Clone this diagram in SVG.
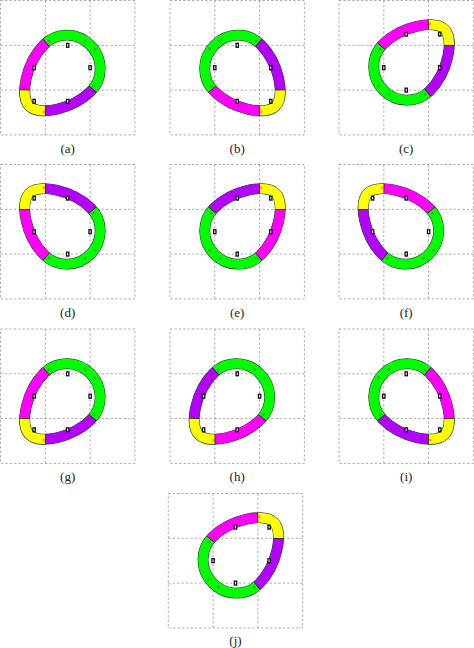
<svg xmlns="http://www.w3.org/2000/svg" xmlns:xlink="http://www.w3.org/1999/xlink" width="474" height="648" viewBox="0 0 474 648">
<style>
.grid{fill:none;stroke:#8a8a8a;stroke-width:0.7;stroke-dasharray:2.4 2}
.ol{fill:none;stroke:#262626;stroke-width:10.8}
.bd{fill:none;stroke-width:9.8}
.g{stroke:#00ff00}.m{stroke:#ff00ff}.p{stroke:#b400ff}.y{stroke:#ffff00}.k{stroke:#262626}
.lbl{font-family:"Liberation Serif","Times New Roman",serif;font-size:13px;text-anchor:middle;fill:#222}
.dot{fill:none;stroke:#b03030;stroke-width:0.5}
</style>
<defs>
<path id="egg" pathLength="238.1" d="M32,0 A32,33 0 0 1 0,33 C-26,33 -54.3,14 -54.3,0 C-54.3,-14 -26,-33 0,-33 A32,33 0 0 1 32,0 Z"/>
<g id="gridT">
<rect class="grid" x="0" y="0" width="134.4" height="134.4"/>
<path class="grid" d="M44.8,0V134.4M89.6,0V134.4M0,44.8H134.4M0,89.6H134.4"/>
</g>
<g id="mk"><rect x="-1.8" y="-2.6" width="3.6" height="5.2" fill="#111"/><rect x="-0.5" y="-1.3" width="1" height="2.6" fill="#fff"/></g>
<g id="deco">
<use href="#mk" x="0" y="-22.4"/>
<use href="#mk" x="-33.6" y="0"/>
<use href="#mk" x="22.4" y="0"/>
<use href="#mk" x="-33.6" y="33.6"/>
<use href="#mk" x="0" y="33.6"/>
<circle class="dot" cx="-25.5" cy="-17.5" r="1"/>
<circle class="dot" cx="-18.8" cy="-26.5" r="1"/>
<circle class="dot" cx="-44" cy="21" r="1"/>
<circle class="dot" cx="-23.8" cy="44" r="1"/>
<circle class="dot" cx="21.2" cy="23.5" r="1"/>
<circle class="dot" cx="26.2" cy="18.5" r="1"/>
<circle class="dot" cx="17.5" cy="-26.5" r="1"/>
<circle class="dot" cx="27.5" cy="-18.5" r="1"/>
</g>
<g id="ringA">
<g transform="rotate(-45)">
<use href="#egg" class="ol"/>
<use href="#egg" class="bd g"/>
<use href="#egg" class="bd k" stroke-dasharray="141.8 1000" stroke-dashoffset="-48.15"/>
<use href="#egg" class="bd p" stroke-dasharray="52.4 1000" stroke-dashoffset="-48.95"/>
<use href="#egg" class="bd y" stroke-dasharray="33.8 1000" stroke-dashoffset="-102.15"/>
<use href="#egg" class="bd m" stroke-dasharray="52.4 1000" stroke-dashoffset="-136.75"/>
</g>
<use href="#deco"/>
</g>
<g id="ringB">
<g transform="rotate(-45)">
<use href="#egg" class="ol"/>
<use href="#egg" class="bd g"/>
<use href="#egg" class="bd k" stroke-dasharray="141.8 1000" stroke-dashoffset="-48.15"/>
<use href="#egg" class="bd m" stroke-dasharray="52.4 1000" stroke-dashoffset="-48.95"/>
<use href="#egg" class="bd y" stroke-dasharray="33.8 1000" stroke-dashoffset="-102.15"/>
<use href="#egg" class="bd p" stroke-dasharray="52.4 1000" stroke-dashoffset="-136.75"/>
</g>
<use href="#deco"/>
</g>
</defs>

<g id="panel-a" transform="translate(0.5,0.5)">
<use href="#gridT"/>
<use href="#ringA" transform="translate(67.2,67.2)"/>
<text class="lbl" x="67.2" y="152">(a)</text>
</g>
<g id="panel-b" transform="translate(170,0.5)">
<use href="#gridT"/>
<use href="#ringB" transform="translate(67.2,67.2) scale(-1,1)"/>
<text class="lbl" x="67.2" y="152">(b)</text>
</g>
<g id="panel-c" transform="translate(339,0.5)">
<use href="#gridT"/>
<use href="#ringB" transform="translate(67.2,67.2) scale(-1,-1)"/>
<text class="lbl" x="67.2" y="152">(c)</text>
</g>
<g id="panel-d" transform="translate(0.5,164.5)">
<use href="#gridT"/>
<use href="#ringA" transform="translate(67.2,67.2) scale(1,-1)"/>
<text class="lbl" x="67.2" y="152">(d)</text>
</g>
<g id="panel-e" transform="translate(170,164.5)">
<use href="#gridT"/>
<use href="#ringA" transform="translate(67.2,67.2) scale(-1,-1)"/>
<text class="lbl" x="67.2" y="152">(e)</text>
</g>
<g id="panel-f" transform="translate(339,164.5)">
<use href="#gridT"/>
<use href="#ringB" transform="translate(67.2,67.2) scale(1,-1)"/>
<text class="lbl" x="67.2" y="152">(f)</text>
</g>
<g id="panel-g" transform="translate(0.5,329)">
<use href="#gridT"/>
<use href="#ringA" transform="translate(67.2,67.2)"/>
<text class="lbl" x="67.2" y="152">(g)</text>
</g>
<g id="panel-h" transform="translate(170,329)">
<use href="#gridT"/>
<use href="#ringB" transform="translate(67.2,67.2)"/>
<text class="lbl" x="67.2" y="152">(h)</text>
</g>
<g id="panel-i" transform="translate(339,329)">
<use href="#gridT"/>
<use href="#ringA" transform="translate(67.2,67.2) scale(-1,1)"/>
<text class="lbl" x="67.2" y="152">(i)</text>
</g>
<g id="panel-j" transform="translate(168.3,493.5)">
<use href="#gridT"/>
<use href="#ringB" transform="translate(67.2,67.2) scale(-1,-1)"/>
<text class="lbl" x="67.2" y="151.5">(j)</text>
</g>
<g id="connectors"/>
</svg>
